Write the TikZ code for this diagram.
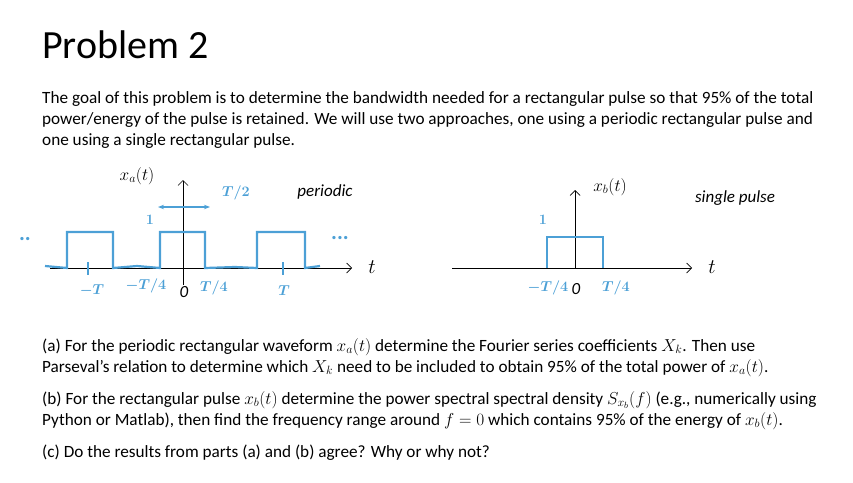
\documentclass[tikz,border=0pt]{standalone}
\usepackage{fontspec}
\setmainfont{Carlito}
\usepackage{amsmath}
\usetikzlibrary{arrows.meta}
\definecolor{pen}{RGB}{76,160,214}
\begin{document}
\begin{tikzpicture}[x=1pt,y=-1pt,
  body/.style={anchor=north west,inner sep=0pt,align=left,font=\fontsize{17.2}{21}\selectfont},
  pulse/.style={pen,line width=2.2pt},
  axisline/.style={black,line width=0.7pt,-{Straight Barb[length=5pt]}},
  blue lbl/.style={pen,font=\fontsize{15}{15}\selectfont\itshape},
  hand/.style={font=\fontsize{17}{17}\selectfont\itshape}]
\useasboundingbox (0,0) rectangle (853,482);
\node[anchor=west,inner sep=0pt,font=\fontsize{40}{40}\selectfont] (title) at (42,45) {Problem 2};
\node[body] (intro) at (42,91) {The goal of this problem is to determine the bandwidth needed for a rectangular pulse so that 95\% of the total\\power/energy of the pulse is retained. We will use two approaches, one using a periodic rectangular pulse and\\one using a single rectangular pulse.};
% left sketch
\coordinate (la0) at (50,268); \coordinate (la1) at (352,268);
\draw[axisline] (la0) -- (la1);
\coordinate (lv0) at (183,285); \coordinate (lv1) at (183,180);
\draw[axisline] (lv0) -- (lv1);
\draw[pulse] (45,266) -- (67,268) -- (67,232) -- (113,232) -- (113,268) -- (137,266) -- (160,268) -- (160,232) -- (205,232) -- (205,268) -- (235,267) -- (257,268) -- (257,232) -- (305,232) -- (305,268) -- (320,266);
\draw[pen,line width=2pt,{Stealth[length=6pt]}-{Stealth[length=6pt]}] (158,207) -- (210,207);
\foreach \x in {88,283} \draw[pen,line width=2pt] (\x,262) -- (\x,275);
\node[pen,font=\fontsize{22}{22}\selectfont\bfseries] (tl1) at (25,239) {..};
\node[pen,font=\fontsize{22}{22}\selectfont\bfseries] (tl2) at (340,238) {...};
\node[blue lbl] (mT) at (92,291) {$\boldsymbol{-T}$};
\node[blue lbl] (T) at (284,291) {$\boldsymbol{T}$};
\node[blue lbl] (mT4) at (146,286) {$\boldsymbol{-T/4}$};
\node[hand] (z1) at (184,292) {0};
\node[blue lbl] (T4) at (214,288) {$\boldsymbol{T/4}$};
\node[blue lbl] (T2) at (236,193) {$\boldsymbol{T/2}$};
\node[blue lbl] (one1) at (150,220) {$\boldsymbol{1}$};
\node[hand] (xa) at (137,176) {$x_a(t)$};
\node[hand] (per) at (325,192) {periodic};
\node[hand,font=\fontsize{20}{20}\selectfont] (t1) at (372,267) {$t$};
% right sketch
\coordinate (ra0) at (452,268); \coordinate (ra1) at (692,268);
\draw[axisline] (ra0) -- (ra1);
\coordinate (rv0) at (575,268); \coordinate (rv1) at (575,190);
\draw[axisline] (rv0) -- (rv1);
\draw[pulse] (547,268) -- (547,237) -- (603,237) -- (603,268);
\node[blue lbl] (rmT4) at (548,288) {$\boldsymbol{-T/4}$};
\node[hand] (z2) at (576,289) {0};
\node[blue lbl] (rT4) at (616,288) {$\boldsymbol{T/4}$};
\node[blue lbl] (one2) at (543,220) {$\boldsymbol{1}$};
\node[hand] (xb) at (610,187) {$x_b(t)$};
\node[hand] (sp) at (735,198) {single pulse};
\node[hand,font=\fontsize{20}{20}\selectfont] (t2) at (712,267) {$t$};
% questions
\node[body] (qa) at (42,338) {(a) For the periodic rectangular waveform $x_a(t)$ determine the Fourier series coefficients $X_k$. Then use\\Parseval's relation to determine which $X_k$ need to be included to obtain 95\% of the total power of $x_a(t)$.};
\node[body] (qb) at (42,391) {(b) For the rectangular pulse $x_b(t)$ determine the power spectral spectral density $S_{x_b}(f)$ (e.g., numerically using\\Python or Matlab), then find the frequency range around $f=0$ which contains 95\% of the energy of $x_b(t)$.};
\node[body] (qc) at (42,445) {(c) Do the results from parts (a) and (b) agree? Why or why not?};
\end{tikzpicture}
\end{document}
